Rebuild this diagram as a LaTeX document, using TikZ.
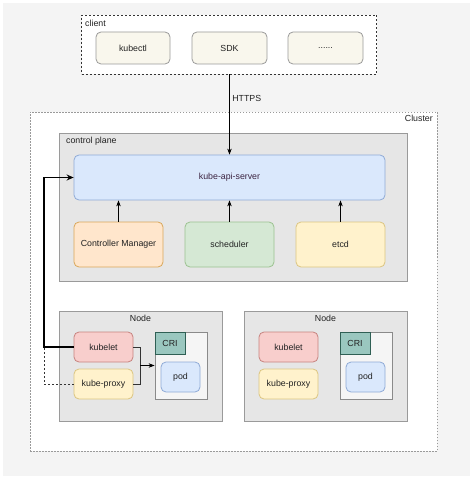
\documentclass[tikz,border=0pt]{standalone}
\usepackage{fontspec}
\setmainfont{Liberation Sans}
\usetikzlibrary{arrows.meta}
\definecolor{bgc}{HTML}{F4F4F4}
\definecolor{grayfill}{HTML}{E6E6E6}
\definecolor{grayline}{HTML}{9A9A9A}
\definecolor{clientfill}{HTML}{F9F7ED}
\definecolor{bluefill}{HTML}{DAE8FC}
\definecolor{blueline}{HTML}{8FAAD6}
\definecolor{orfill}{HTML}{FFE6CC}
\definecolor{orline}{HTML}{D9A75A}
\definecolor{grfill}{HTML}{D5E8D4}
\definecolor{grline}{HTML}{9CC290}
\definecolor{yefill}{HTML}{FFF2CC}
\definecolor{yeline}{HTML}{DCC580}
\definecolor{redfill}{HTML}{F8CECC}
\definecolor{redline}{HTML}{C7837F}
\definecolor{crifill}{HTML}{9AC7BF}
\definecolor{criline}{HTML}{2F5F54}
\definecolor{podbox}{HTML}{F5F5F5}
\definecolor{podline}{HTML}{8A8A8A}
\definecolor{txt}{HTML}{222222}
\definecolor{apitxt}{HTML}{3B2340}
\begin{document}
\begin{tikzpicture}[x=1pt,y=-1pt,
  every node/.style={font=\fontsize{8.8}{10.5}\selectfont, text=txt, inner sep=0pt},
  rbox/.style={draw, rounded corners=5pt, line width=0.8pt},
  sbox/.style={draw, line width=0.8pt},
  lbl/.style={font=\fontsize{8.8}{10.5}\selectfont},
  arr/.style={-{Stealth[length=6pt,width=4.5pt]}, line width=0.7pt, black},
]
\useasboundingbox (0,0) rectangle (474,481);
\fill[bgc] (3,3) rectangle (470,476);

% client
\node[draw=black!80, fill=white, dash pattern=on 2pt off 2pt, line width=0.7pt,
  minimum width=295pt, minimum height=59pt] (client) at (229.3,44.5) {};
\node[lbl, anchor=west] (clientlbl) at (85,23) {client};
\node[rbox, draw=grayline, fill=clientfill, minimum width=74pt, minimum height=32pt] (kubectl) at (133,48) {kubectl};
\node[rbox, draw=grayline, fill=clientfill, minimum width=75pt, minimum height=32pt] (sdk) at (229.5,48) {SDK};
\node[rbox, draw=grayline, fill=clientfill, minimum width=75pt, minimum height=32pt] (dots) at (325.5,48) {......};

% cluster
\node[draw=grayline, fill=white, dash pattern=on 1.5pt off 1.5pt, line width=0.7pt,
  minimum width=407pt, minimum height=339pt] (cluster) at (233.5,281.5) {};
\node[lbl, anchor=east] (clusterlbl) at (433,118) {Cluster};

% control plane
\node[sbox, draw=grayline, fill=grayfill, minimum width=348pt, minimum height=148pt] (cp) at (233,207) {};
\node[lbl, anchor=west] (cplbl) at (66,141) {control plane};
\node[rbox, draw=blueline, fill=bluefill, text=apitxt, minimum width=311pt, minimum height=45pt] (api) at (229.5,177.5) {kube-api-server};
\node[rbox, draw=orline, fill=orfill, minimum width=89pt, minimum height=45pt] (cm) at (118.5,244.5) {Controller Manager};
\node[rbox, draw=grline, fill=grfill, minimum width=89pt, minimum height=45pt] (sched) at (229.5,244.5) {scheduler};
\node[rbox, draw=yeline, fill=yefill, minimum width=89pt, minimum height=45pt] (etcd) at (340.5,244.5) {etcd};

% node 1
\node[sbox, draw=grayline, fill=grayfill, minimum width=163pt, minimum height=110pt] (n1) at (140.5,366) {};
\node[lbl] (n1lbl) at (140.5,318) {Node};
\node[rbox, draw=redline, fill=redfill, minimum width=59pt, minimum height=30pt] (kubelet1) at (103.5,347) {kubelet};
\node[rbox, draw=yeline, fill=yefill, minimum width=59pt, minimum height=30pt] (proxy1) at (103.5,384) {kube-proxy};
\node[sbox, draw=podline, fill=podbox, minimum width=52pt, minimum height=67pt] (cri1) at (181,365.5) {};
\node[sbox, draw=criline, fill=crifill, minimum width=30pt, minimum height=22pt] (cril1) at (170,343) {CRI};
\node[rbox, draw=blueline, fill=bluefill, minimum width=39pt, minimum height=30pt] (pod1) at (180.5,377) {pod};

% node 2
\node[sbox, draw=grayline, fill=grayfill, minimum width=163pt, minimum height=110pt] (n2) at (325.5,366) {};
\node[lbl] (n2lbl) at (325.5,318) {Node};
\node[rbox, draw=redline, fill=redfill, minimum width=59pt, minimum height=30pt] (kubelet2) at (288.5,347) {kubelet};
\node[rbox, draw=yeline, fill=yefill, minimum width=59pt, minimum height=30pt] (proxy2) at (288.5,384) {kube-proxy};
\node[sbox, draw=podline, fill=podbox, minimum width=52pt, minimum height=67pt] (cri2) at (366,365.5) {};
\node[sbox, draw=criline, fill=crifill, minimum width=30pt, minimum height=22pt] (cril2) at (355,343) {CRI};
\node[rbox, draw=blueline, fill=bluefill, minimum width=39pt, minimum height=30pt] (pod2) at (365.5,377) {pod};

% connectors
\draw[arr] (client.south -| api.north) -- (api.north) node[pos=0.3, anchor=west, xshift=2.5pt, lbl] (https) {HTTPS};
\draw[arr] (cm.north) -- (cm.north |- api.south);
\draw[arr] (sched.north) -- (sched.north |- api.south);
\draw[arr] (etcd.north) -- (etcd.north |- api.south);

\coordinate (lc) at (44,0);
\draw[-{Stealth[length=7pt,width=6pt]}, line width=1.4pt, black] (kubelet1.west) -- (kubelet1.west -| lc) |- (api.west);
\draw[dash pattern=on 2pt off 2pt, line width=0.6pt, black!80] (proxy1.west) -- (proxy1.west -| lc) -- (kubelet1.west -| lc);

\coordinate (mc) at (140,0);
\draw[line width=0.7pt, black!80] (kubelet1.east) -- (kubelet1.east -| mc) -- (cri1.west -| mc);
\draw[line width=0.7pt, black!80] (proxy1.east) -- (proxy1.east -| mc) -- (cri1.west -| mc);
\draw[arr] (cri1.west -| mc) -- (cri1.west);
\end{tikzpicture}
\end{document}
